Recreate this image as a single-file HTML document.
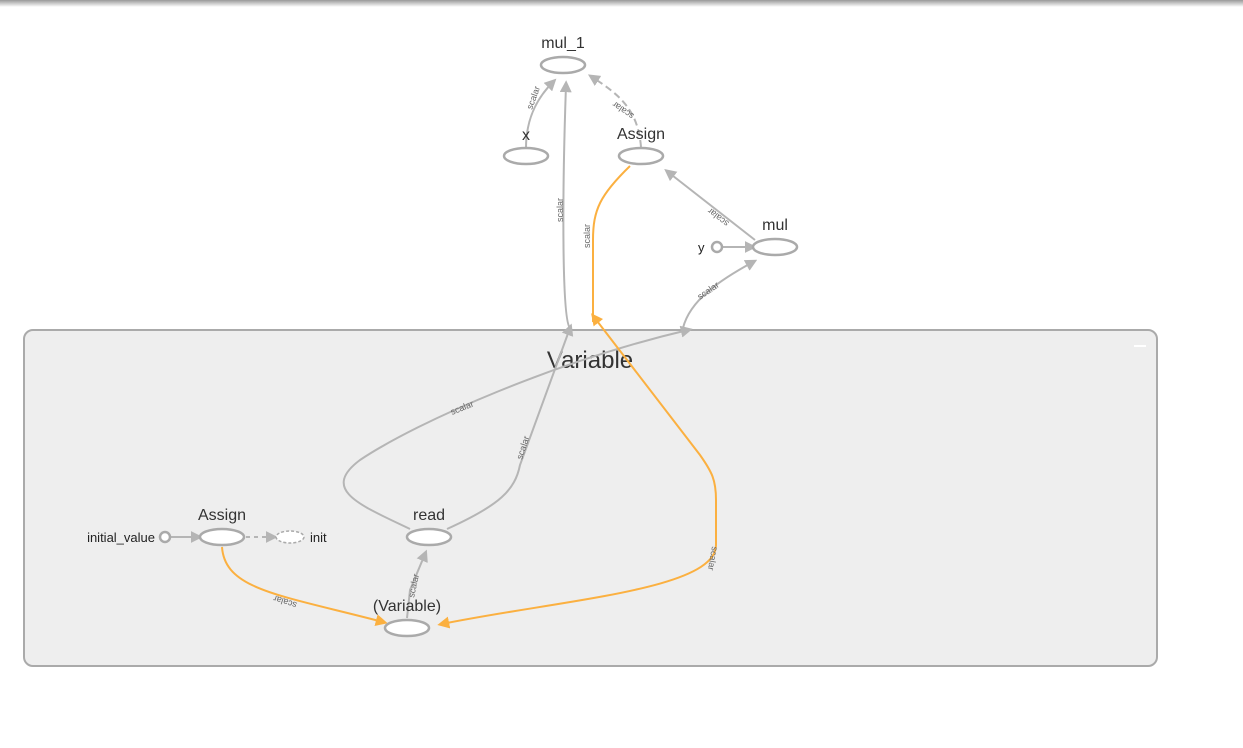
<!DOCTYPE html>
<html><head><meta charset="utf-8"><style>
html,body{margin:0;padding:0;background:#fff;width:1243px;height:748px;overflow:hidden}
text{font-family:"Liberation Sans",sans-serif}
</style></head><body>
<svg width="1243" height="748" viewBox="0 0 1243 748" xmlns="http://www.w3.org/2000/svg">
<defs>
<linearGradient id="tg" x1="0" y1="0" x2="0" y2="1"><stop offset="0" stop-color="#999"/><stop offset="1" stop-color="#fff"/></linearGradient>
<marker id="ag" viewBox="0 0 10 10" refX="6" refY="5" markerWidth="6" markerHeight="6" orient="auto-start-reverse"><path d="M0,0L10,5L0,10z" fill="#b5b5b5"/></marker>
<marker id="ao" viewBox="0 0 10 10" refX="6" refY="5" markerWidth="6" markerHeight="6" orient="auto-start-reverse"><path d="M0,0L10,5L0,10z" fill="#fbb040"/></marker>
</defs>
<rect x="0" y="0" width="1243" height="7" fill="url(#tg)"/>
<rect x="24" y="330" width="1133" height="336" rx="9" fill="#eee" stroke="#aaa" stroke-width="2"/>
<text x="590" y="368" font-size="24" fill="#333" text-anchor="middle">Variable</text>
<rect x="1134" y="345" width="12" height="2" fill="#fff"/>
<g fill="none" stroke="#b5b5b5" stroke-width="2">
<path d="M526,148 C526,115 540,95 553,82" marker-end="url(#ag)"/>
<path d="M570,328 C562,320 562,200 566,85" marker-end="url(#ag)"/>
<path d="M641,147 C638,110 620,95 592,77" stroke-dasharray="7,4" marker-end="url(#ag)"/>
<path d="M755,240 L668,172" marker-end="url(#ag)"/>
<path d="M683,328 C690,300 720,280 753,262" marker-end="url(#ag)"/>
<path d="M410,529 C360,505 320,490 360,460 C420,420 560,360 688,330" marker-end="url(#ag)"/>
<path d="M447,529 C500,505 515,490 520,465 L570,328" marker-end="url(#ag)"/>
<path d="M407,618 L410,590 L425,554" marker-end="url(#ag)"/>
<path d="M713,247 L752,247" marker-end="url(#ag)"/>
<path d="M170,537 L198,537" marker-end="url(#ag)"/>
<path d="M246,537 L273,537" stroke-dasharray="4,4" marker-end="url(#ag)"/>
</g>
<g fill="none" stroke="#fbb040" stroke-width="2">
<path d="M630,166 C600,195 593,210 593,240 L593,322"/>
<path d="M442,624 C560,600 716,590 716,545 L716,500 C716,480 712,472 700,455 L594,317" marker-start="url(#ao)" marker-end="url(#ao)"/>
<path d="M222,547 C225,590 280,595 383,622" marker-end="url(#ao)"/>
</g>
<g font-size="9" fill="#666">
<text transform="translate(532,110) rotate(-70)">scalar</text>
<text transform="translate(563,222) rotate(-90)">scalar</text>
<text transform="translate(590,248) rotate(-90)">scalar</text>
<text transform="translate(615,101) rotate(35) scale(-1,-1)" text-anchor="end">scalar</text>
<text transform="translate(720,215) rotate(38) scale(-1,-1)" text-anchor="middle">scalar</text>
<text transform="translate(700,300) rotate(-35)">scalar</text>
<text transform="translate(452,415) rotate(-22)">scalar</text>
<text transform="translate(522,460) rotate(-72)">scalar</text>
<text transform="translate(414,598) rotate(-78)">scalar</text>
<text transform="translate(286,599) rotate(18) scale(-1,-1)" text-anchor="middle">scalar</text>
<text transform="translate(710,558) rotate(-80) scale(-1,-1)" text-anchor="middle">scalar</text>
</g>
<g fill="#fff" stroke="#aaa" stroke-width="2.5">
<ellipse cx="563" cy="65" rx="22" ry="8"/>
<ellipse cx="526" cy="156" rx="22" ry="8"/>
<ellipse cx="641" cy="156" rx="22" ry="8"/>
<ellipse cx="775" cy="247" rx="22" ry="8"/>
<circle cx="717" cy="247" r="5"/>
<circle cx="165" cy="537" r="5"/>
<ellipse cx="222" cy="537" rx="22" ry="8"/>
<ellipse cx="429" cy="537" rx="22" ry="8"/>
<ellipse cx="407" cy="628" rx="22" ry="8"/>
</g>
<ellipse cx="290" cy="537" rx="14" ry="6" fill="#fff" stroke="#aaa" stroke-width="1.5" stroke-dasharray="3,2"/>
<g font-size="16" fill="#333" text-anchor="middle">
<text x="563" y="48">mul_1</text>
<text x="526" y="140">x</text>
<text x="641" y="139">Assign</text>
<text x="775" y="230">mul</text>
<text x="222" y="520">Assign</text>
<text x="429" y="520">read</text>
<text x="407" y="611">(Variable)</text>
</g>
<g font-size="13" fill="#222">
<text x="698" y="252">y</text>
<text x="155" y="542" text-anchor="end">initial_value</text>
<text x="310" y="542">init</text>
</g>
</svg>
</body></html>
